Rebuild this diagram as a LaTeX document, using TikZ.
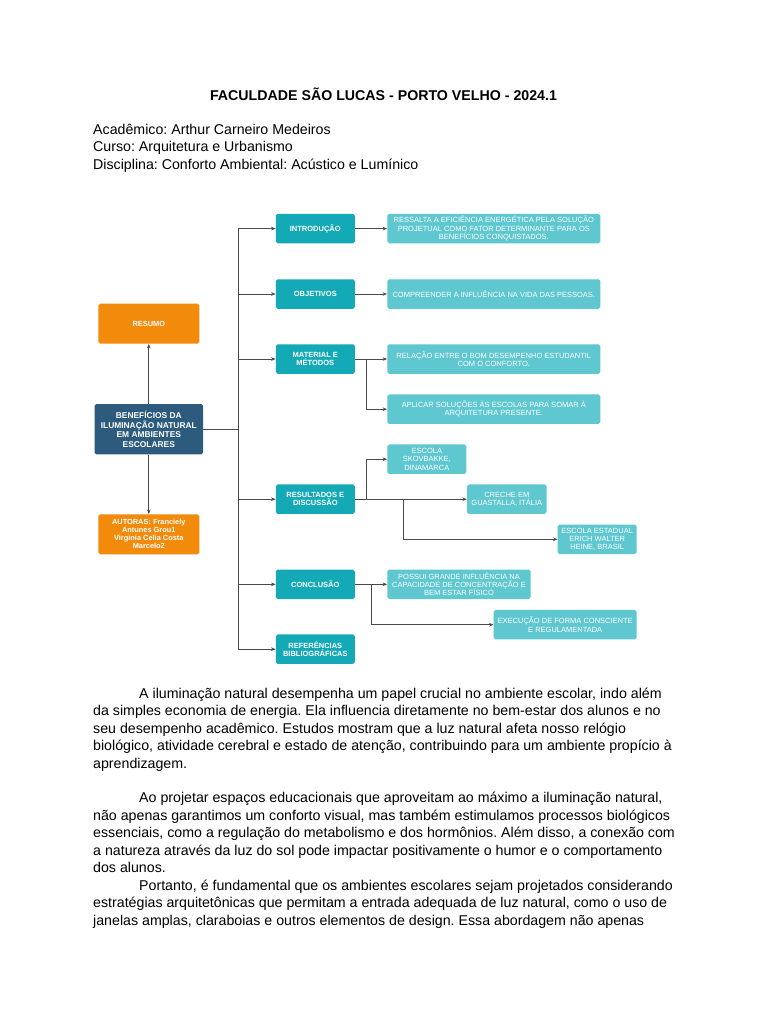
\documentclass[tikz,border=0pt]{standalone}
\usepackage{fontspec}
\setmainfont{Liberation Sans}
\usetikzlibrary{arrows.meta}
\definecolor{tealdk}{HTML}{14A9B6}
\definecolor{teallt}{HTML}{5FC7CF}
\definecolor{orng}{HTML}{F28A0C}
\definecolor{navy}{HTML}{2C5B7D}
\definecolor{lnc}{HTML}{4A4A4A}
\frenchspacing
\begin{document}
\frenchspacing
\begin{tikzpicture}[x=1pt,y=-1pt,
  box/.style={draw=none, rounded corners=1.8pt, minimum height=29.5pt, inner sep=0pt, align=center, text=white},
  dk/.style={box, fill=tealdk, font=\bfseries\fontsize{7.5}{8.3}\selectfont, minimum width=79pt},
  lt/.style={box, fill=teallt, font=\fontsize{7.5}{8.3}\selectfont},
  og/.style={box, fill=orng, minimum width=101pt, minimum height=40pt, font=\bfseries\fontsize{7.4}{8}\selectfont},
  ln/.style={draw=lnc, line width=0.8pt},
  arr/.style={ln, -{Stealth[length=4.5pt,width=3.6pt]}},
  body/.style={anchor=base west, inner sep=0pt, font=\fontsize{14.2}{17.5}\selectfont},
]
\useasboundingbox (0,0) rectangle (768,1024);
\fill[white] (0,0) rectangle (768,1024);

% header
\node[anchor=base, inner sep=0pt, font=\bfseries\fontsize{14.2}{17.5}\selectfont] (title) at (383.5,101) {FACULDADE SÃO LUCAS - PORTO VELHO - 2024.1};
\node[body] (h1) at (93,134.5) {Acadêmico: Arthur Carneiro Medeiros};
\node[body] (h2) at (93,152) {Curso: Arquitetura e Urbanismo};
\node[body] (h3) at (93,169.5) {Disciplina: Conforto Ambiental: Acústico e Lumínico};

% left column
\node[og] (resumo) at (148.8,323.7) {RESUMO};
\node[box, fill=navy, minimum width=108.6pt, minimum height=50.3pt, font=\bfseries\fontsize{8.4}{9.7}\selectfont] (ben) at (148.8,429.2) {BENEFÍCIOS DA\\ILUMINAÇÃO NATURAL\\EM AMBIENTES\\ESCOLARES};
\node[og] (aut) at (148.8,534.3) {AUTORAS: Franciely\\Antunes Grou1\\Virginia Celia Costa\\Marcelo2};

% middle column
\node[dk] (intro) at (315.3,228.6) {INTRODUÇÃO};
\node[dk] (obj) at (315.3,294) {OBJETIVOS};
\node[dk] (mat) at (315.3,359) {MATERIAL E\\MÉTODOS};
\node[dk] (res) at (315.3,499.2) {RESULTADOS E\\DISCUSSÃO};
\node[dk] (conc) at (315.3,584.3) {CONCLUSÃO};
\node[dk] (ref) at (315.3,649.2) {REFERÊNCIAS\\BIBLIOGRÁFICAS};

% right column
\node[lt, minimum width=213pt] (ressalta) at (493.8,228.6) {RESSALTA A EFICIÊNCIA ENERGÉTICA PELA SOLUÇÃO\\PROJETUAL COMO FATOR DETERMINANTE PARA OS\\BENEFÍCIOS CONQUISTADOS.};
\node[lt, minimum width=213pt] (compre) at (493.8,294) {COMPREENDER A INFLUÊNCIA NA VIDA DAS PESSOAS.};
\node[lt, minimum width=213pt] (relac) at (493.8,359) {RELAÇÃO ENTRE O BOM DESEMPENHO ESTUDANTIL\\COM O CONFORTO.};
\node[lt, minimum width=213pt] (aplic) at (493.8,409.2) {APLICAR SOLUÇÕES ÀS ESCOLAS PARA SOMAR À\\ARQUITETURA PRESENTE.};
\node[lt, minimum width=79pt] (skov) at (426.8,459.2) {ESCOLA\\SKOVBAKKE,\\DINAMARCA};
\node[lt, minimum width=79.5pt] (creche) at (506.8,499.2) {CRECHE EM\\GUASTALLA, ITÁLIA};
\node[lt, minimum width=79pt] (estad) at (597.2,539.3) {ESCOLA ESTADUAL\\ERICH WALTER\\HEINE, BRASIL};
\node[lt, minimum width=143.4pt] (possui) at (459,584.3) {POSSUI GRANDE INFLUÊNCIA NA\\CAPACIDADE DE CONCENTRAÇÃO E\\BEM ESTAR FÍSICO};
\node[lt, minimum width=143pt] (exec) at (565.2,624.7) {EXECUÇÃO DE FORMA CONSCIENTE\\E REGULAMENTADA};

% connectors
\coordinate (tx) at (238.3,0);
\coordinate (mx) at (366,0);
\coordinate (rx) at (403.3,0);
\coordinate (cx) at (371.7,0);
\draw[ln] (ben.east) -- (ben.east -| tx);
\draw[ln] (intro.west -| tx) -- (ref.west -| tx);
\foreach \n in {intro,obj,mat,res,conc,ref} {\draw[arr] (\n.west -| tx) -- (\n.west);}
\draw[arr] (ben.north) -- (resumo.south);
\draw[arr] (ben.south) -- (aut.north);
\draw[arr] (intro.east) -- (ressalta.west);
\draw[arr] (obj.east) -- (compre.west);
\draw[arr] (mat.east) -- (relac.west);
\draw[arr] (mat.east -| mx) -- (aplic.west -| mx) -- (aplic.west);
\draw[arr] (res.east) -- (creche.west);
\draw[arr] (res.east -| mx) -- (skov.west -| mx) -- (skov.west);
\draw[arr] (res.east -| rx) -- (estad.west -| rx) -- (estad.west);
\draw[arr] (conc.east) -- (possui.west);
\draw[arr] (conc.east -| cx) -- (exec.west -| cx) -- (exec.west);

% body text
\node[body] (p1a) at (139,698) {A iluminação natural desempenha um papel crucial no ambiente escolar, indo além};
\node[body] (p1b) at (93,715.5) {da simples economia de energia. Ela influencia diretamente no bem-estar dos alunos e no};
\node[body] (p1c) at (93,733) {seu desempenho acadêmico. Estudos mostram que a luz natural afeta nosso relógio};
\node[body] (p1d) at (93,750.5) {biológico, atividade cerebral e estado de atenção, contribuindo para um ambiente propício à};
\node[body] (p1e) at (93,768) {aprendizagem.};
\node[body] (p2a) at (139,802.5) {Ao projetar espaços educacionais que aproveitam ao máximo a iluminação natural,};
\node[body] (p2b) at (93,820) {não apenas garantimos um conforto visual, mas também estimulamos processos biológicos};
\node[body] (p2c) at (93,837.5) {essenciais, como a regulação do metabolismo e dos hormônios. Além disso, a conexão com};
\node[body] (p2d) at (93,855) {a natureza através da luz do sol pode impactar positivamente o humor e o comportamento};
\node[body] (p2e) at (93,872.5) {dos alunos.};
\node[body] (p3a) at (139,890) {Portanto, é fundamental que os ambientes escolares sejam projetados considerando};
\node[body] (p3b) at (93,907.5) {estratégias arquitetônicas que permitam a entrada adequada de luz natural, como o uso de};
\node[body] (p3c) at (93,925) {janelas amplas, claraboias e outros elementos de design. Essa abordagem não apenas};
\end{tikzpicture}
\end{document}
